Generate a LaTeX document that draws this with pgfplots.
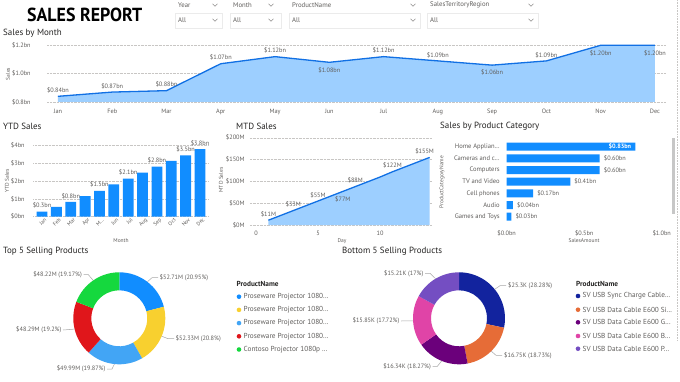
\documentclass[border=0pt]{standalone}
\usepackage{pgfplots}
\pgfplotsset{compat=1.18}
\usepackage{fontspec}
\setmainfont{PT Sans}
\definecolor{pbblue}{HTML}{118DFF}
\definecolor{lineblue}{HTML}{1170E4}
\definecolor{areablue}{HTML}{9DCFFF}
\definecolor{titlegray}{HTML}{252423}
\definecolor{tickgray}{HTML}{605E5C}
\definecolor{gridgray}{HTML}{C8C6C4}
\definecolor{leadgray}{HTML}{A8A8A8}
\definecolor{dyellow}{HTML}{F8D02F}
\definecolor{dlblue}{HTML}{42A5F5}
\definecolor{dred}{HTML}{E0161B}
\definecolor{dgreen}{HTML}{15D83E}
\definecolor{bnavy}{HTML}{12239E}
\definecolor{borange}{HTML}{E66C37}
\definecolor{bpurple}{HTML}{6B007B}
\definecolor{bpink}{HTML}{E044A7}
\definecolor{bviolet}{HTML}{744EC2}
\newcommand{\fs}[1]{\fontsize{#1}{#1}\selectfont}
\newcommand{\el}{.\kern0.3pt.\kern0.3pt.}
\pgfplotsset{
  pbi/.style={scale only axis, anchor=south west, axis line style={draw=none},
    tick style={draw=none}, major tick length=0pt,
    ticklabel style={font=\fs{6.3}, text=tickgray},
    grid style={densely dotted, gridgray, line width=0.5bp}, clip=false,
    /pgf/number format/assume math mode=true},
  lblA/.style={nodes near coords, point meta=explicit symbolic,
    every node near coord/.style={font=\fs{6.3}, text=tickgray, anchor=south, inner sep=1.5bp, yshift=1.5bp}},
  lblB/.style={nodes near coords, point meta=explicit symbolic,
    every node near coord/.style={font=\fs{6.3}, text=tickgray, anchor=north, inner sep=1.5bp, yshift=-3bp}},
}
\newcommand{\chev}[2]{\draw[tickgray!70, line width=0.5bp] (#1-2.5,#2+1.2) -- (#1,#2-1.2) -- (#1+2.5,#2+1.2);}
\newcommand{\donut}[3]{%
  \begin{scope}[shift={(#1,#2)}]
  \gdef\angA{90}%
  \foreach \p/\c in {#3}{%
    \pgfmathsetmacro\angB{\angA-3.6*\p}%
    \fill[\c] (\angA:46) arc[start angle=\angA, end angle=\angB, radius=46] -- (\angB:28) arc[start angle=\angB, end angle=\angA, radius=28] -- cycle;
    \xdef\angA{\angB}%
  }
  \end{scope}}
\begin{document}
\begin{tikzpicture}[x=1bp,y=1bp]
\path[use as bounding box, fill=white] (0,0) rectangle (680,381);
% panel border
\draw[gridgray, densely dotted, line width=0.6bp] (677,381) -- (677,40);
% title
\node[anchor=west, inner sep=0pt, text=black] at (27,366) {\resizebox{115bp}{13.5bp}{\bfseries SALES REPORT}};
% slicers
\foreach \lx/\cx/\bx/\ex/\t in {178/215/175/222/Year, 233/271/230/281/Month, 292/413/289/420/ProductName, 430/531/427/538/SalesTerritoryRegion}{
  \node[anchor=west, inner sep=0pt, font=\fs{6.8}, text=tickgray] at (\lx,376) {\t};
  \chev{\cx}{376}
  \draw[black!8, line width=0.5bp] (\bx,353) rectangle (\ex,368);
  \node[anchor=west, inner sep=0pt, font=\fs{6.8}, text=tickgray] at (\lx,361) {All};
  \chev{\cx}{361}
}
% chart titles
\node[anchor=west, inner sep=0pt, font=\fs{9}, text=titlegray] at (3,348) {Sales by Month};
\node[anchor=west, inner sep=0pt, font=\fs{9}, text=titlegray] at (3,255) {YTD Sales};
\node[anchor=west, inner sep=0pt, font=\fs{9}, text=titlegray] at (236,255) {MTD Sales};
\node[anchor=west, inner sep=0pt, font=\fs{9}, text=titlegray] at (440,255) {Sales by Product Category};
\node[anchor=west, inner sep=0pt, font=\fs{9}, text=titlegray] at (3,130) {Top 5 Selling Products};
\node[anchor=west, inner sep=0pt, font=\fs{9}, text=titlegray] at (342,130) {Bottom 5 Selling Products};
% axis labels
\node[rotate=90, font=\fs{5.5}, text=tickgray, inner sep=0pt] at (8,307) {Sales};
\node[rotate=90, font=\fs{5.5}, text=tickgray, inner sep=0pt] at (7,200) {YTD Sales};
\node[rotate=90, font=\fs{5.5}, text=tickgray, inner sep=0pt] at (221,201) {MTD Sales};
\node[rotate=90, font=\fs{5.5}, text=tickgray, inner sep=0pt] at (442,199) {ProductCategoryName};
\node[font=\fs{5.5}, text=tickgray, inner sep=0pt] at (121,140.3) {Month};
\node[font=\fs{5.5}, text=tickgray, inner sep=0pt] at (342,140) {Day};
\node[font=\fs{5.5}, text=tickgray, inner sep=0pt] at (584,140.3) {SalesAmount};

% ---- Sales by Month
\begin{axis}[pbi, at={(47.1bp,279bp)}, width=618.7bp, height=56.7bp,
  xmin=-0.2, xmax=11.2, ymin=0.8, ymax=1.2,
  xtick={0,1,2,3,4,5,6,7,8,9,10,11}, xticklabels={Jan,Feb,Mar,Apr,May,Jun,Jul,Aug,Sep,Oct,Nov,Dec},
  ytick={0.8,1.0,1.2}, yticklabels={\$0.8bn,\$1.0bn,\$1.2bn},
  ymajorgrids, xticklabel style={yshift=-3.6bp}, yticklabel style={xshift=-13bp}]
\addplot[fill=areablue, draw=none] coordinates {(0,0.8) (0,0.84) (1,0.87) (2,0.88) (3,1.07) (4,1.12) (5,1.08) (6,1.12) (7,1.09) (8,1.06) (9,1.09) (10,1.20) (11,1.20) (11,0.8)} -- cycle;
\addplot[lineblue, line width=1.3bp, mark=none] coordinates {(0,0.84) (1,0.87) (2,0.88) (3,1.07) (4,1.12) (5,1.08) (6,1.12) (7,1.09) (8,1.06) (9,1.09) (10,1.20) (11,1.20)};
\addplot[draw=none, lblA] coordinates {(0,0.84)[\$0.84bn] (1,0.87)[\$0.87bn] (2,0.88)[\$0.88bn] (3,1.07)[\$1.07bn] (4,1.12)[\$1.12bn] (6,1.12)[\$1.12bn] (7,1.09)[\$1.09bn] (9,1.09)[\$1.09bn]};
\addplot[draw=none, lblB] coordinates {(5,1.08)[\$1.08bn] (8,1.06)[\$1.06bn] (10,1.20)[\$1.20bn] (11,1.20)[\$1.20bn]};
\end{axis}

% ---- YTD Sales
\begin{axis}[pbi, at={(33.4bp,164.3bp)}, width=175.2bp, height=71bp,
  xmin=-0.6, xmax=11.6, ymin=0, ymax=4,
  xtick={0,1,2,3,4,5,6,7,8,9,10,11}, xticklabels={Jan,Feb,Mar,Apr,{M\el},Jun,Jul,Aug,Sep,Oct,Nov,Dec},
  xticklabel style={rotate=45, anchor=north east, inner sep=1bp, font=\fs{5.4}, xshift=2bp, yshift=-1bp},
  ytick={0,1,2,3,4}, yticklabels={\$0bn,\$1bn,\$2bn,\$3bn,\$4bn},
  yticklabel style={xshift=-5.3bp}, ymajorgrids]
\addplot[ybar, bar width=10.8bp, fill=pbblue, draw=none] coordinates {(0,0.28) (1,0.56) (2,0.83) (3,1.16) (4,1.46) (5,1.82) (6,2.14) (7,2.48) (8,2.82) (9,3.14) (10,3.46) (11,3.81)};
\addplot[draw=none, lblA] coordinates {(0,0.28)[\$0.3bn] (2,0.83)[\$0.8bn] (4,1.46)[\$1.5bn] (6,2.14)[\$2.1bn] (8,2.82)[\$2.8bn] (10,3.46)[\$3.5bn] (11,3.81)[\$3.8bn]};
\end{axis}

% ---- MTD Sales
\begin{axis}[pbi, at={(249.8bp,156bp)}, width=182.3bp, height=87.2bp,
  xmin=-0.5, xmax=14.2, ymin=0, ymax=200,
  xtick={0,5,10}, ytick={0,50,100,150,200},
  yticklabels={\$0M,\$50M,\$100M,\$150M,\$200M},
  ymajorgrids, yticklabel style={xshift=-1.7bp}, xticklabel style={yshift=-2.3bp}]
\addplot[fill=areablue, draw=none] coordinates {(1,0) (1,11) (2,22) (3,33) (4,44) (5,55) (6,66) (7,77) (8,88) (9,99) (10,110) (11,122) (12,133) (13,144) (14,155) (14,0)} -- cycle;
\addplot[lineblue, line width=1.3bp, mark=none] coordinates {(1,11) (2,22) (3,33) (4,44) (5,55) (6,66) (7,77) (8,88) (9,99) (10,110) (11,122) (12,133) (13,144) (14,155)};
\addplot[draw=none, lblA] coordinates {(1,11)[\$11M] (3,33)[\$33M] (5,55)[\$55M] (8,88)[\$88M] (11,122)[\$122M]};
\addplot[draw=none, lblA, every node near coord/.append style={xshift=-5bp}] coordinates {(14,155)[\$155M]};
\addplot[draw=none, lblB] coordinates {(7,77)[\$77M]};
\end{axis}

% ---- Sales by Product Category
\begin{axis}[pbi, at={(506.7bp,157.3bp)}, width=155bp, height=84bp,
  xmin=0, xmax=1, ymin=-0.6, ymax=6.6,
  xtick={0,0.5,1}, xticklabels={\$0.0bn,\$0.5bn,\$1.0bn},
  ytick={0,1,2,3,4,5,6}, yticklabels={Games and Toys,Audio,Cell phones,TV and Video,Computers,{Cameras and c\el},{Home Applian\el}},
  yticklabel style={xshift=-3.6bp, font=\fs{6.6}}, xticklabel style={yshift=-3.6bp}]
\addplot[xbar, bar width=8bp, fill=pbblue, draw=none] coordinates {(0.03,0) (0.04,1) (0.17,2) (0.41,3) (0.60,4) (0.60,5) (0.83,6)};
\addplot[draw=none, nodes near coords, point meta=explicit symbolic,
  every node near coord/.style={font=\fs{6.3}, text=tickgray, anchor=west, inner sep=1.5bp, xshift=2.5bp}]
  coordinates {(0.03,0)[\$0.03bn] (0.04,1)[\$0.04bn] (0.17,2)[\$0.17bn] (0.41,3)[\$0.41bn] (0.60,4)[\$0.60bn] (0.60,5)[\$0.60bn]};
\addplot[draw=none, nodes near coords, point meta=explicit symbolic,
  every node near coord/.style={font=\fs{6.3}\bfseries, text=white, anchor=east, inner sep=1.5bp, xshift=-2.5bp}]
  coordinates {(0.83,6)[\$0.83bn]};
\end{axis}
% scroll bar
\fill[black!22] (672,243.3) rectangle (675,167);

% ---- Top 5 donut
\donut{119.3}{62.7}{20.95/pbblue, 20.8/dyellow, 19.87/dlblue, 19.2/dred, 19.17/dgreen}
\begin{scope}[leadgray, line width=0.5bp]
\draw (147.5,99.3) -- (152,103.3) -- (158,103.3);
\draw (161.7,44.8) -- (168,42.3) -- (174,42.3);
\draw (114.4,17) -- (112,12) -- (107,12);
\draw (74.6,51.9) -- (63,51);
\draw (93.2,100.6) -- (88,106.7) -- (83.5,106.7);
\end{scope}
\begin{scope}[font=\fs{6.3}, text=tickgray, inner sep=0pt]
\node[anchor=west] at (159.5,103.3) {\$52.71M (20.95\%)};
\node[anchor=west] at (175.5,42.3) {\$52.33M (20.8\%)};
\node[anchor=east] at (105.5,12) {\$49.99M (19.87\%)};
\node[anchor=east] at (61.5,51) {\$48.29M (19.2\%)};
\node[anchor=east] at (82,106.7) {\$48.22M (19.17\%)};
\end{scope}
\node[anchor=west, inner sep=0pt, font=\fs{7.3}\bfseries, text=titlegray] at (236.5,96.7) {ProductName};
\foreach \yy/\c/\t in {84.3/pbblue/{Proseware Projector 1080\el}, 71.1/dyellow/{Proseware Projector 1080\el}, 57.9/dlblue/{Proseware Projector 1080\el}, 44.7/dred/{Proseware Projector 1080\el}, 31.5/dgreen/{Contoso Projector 1080p \el}}{
  \fill[\c] (239,\yy) circle[radius=2.3];
  \node[anchor=west, inner sep=0pt, font=\fs{7.3}, text=tickgray] at (243.5,\yy) {\t};
}

% ---- Bottom 5 donut
\donut{459}{62.7}{28.28/bnavy, 18.73/borange, 18.27/bpurple, 17.72/bpink, 17/bviolet}
\begin{scope}[leadgray, line width=0.5bp]
\draw (494.7,91.7) -- (500,95.3) -- (506,95.3);
\draw (491.2,29.9) -- (496,25.7) -- (502,25.7);
\draw (441.7,20.1) -- (437,14.3) -- (432.5,14.3);
\draw (413.1,60.2) -- (401,60);
\draw (435.6,102.3) -- (430,107.7) -- (425,107.7);
\end{scope}
\begin{scope}[font=\fs{6.3}, text=tickgray, inner sep=0pt]
\node[anchor=west] at (508,95.3) {\$25.3K (28.28\%)};
\node[anchor=west] at (504,25.7) {\$16.75K (18.73\%)};
\node[anchor=east] at (431,14.3) {\$16.34K (18.27\%)};
\node[anchor=east] at (399.5,60) {\$15.85K (17.72\%)};
\node[anchor=east] at (423.5,107.7) {\$15.21K (17\%)};
\end{scope}
\node[anchor=west, inner sep=0pt, font=\fs{7.3}\bfseries, text=titlegray] at (576,96.7) {ProductName};
\foreach \yy/\c/\t in {85/bnavy/{SV USB Sync Charge Cable\el}, 71.3/borange/{SV USB Data Cable E600 Si\el}, 58.7/bpurple/{SV USB Data Cable E600 G\el}, 45/bpink/{SV USB Data Cable E600 B\el}, 32.3/bviolet/{SV USB Data Cable E600 P\el}}{
  \fill[\c] (578,\yy) circle[radius=2.3];
  \node[anchor=west, inner sep=0pt, font=\fs{7.3}, text=tickgray] at (582.5,\yy) {\t};
}
\end{tikzpicture}
\end{document}
